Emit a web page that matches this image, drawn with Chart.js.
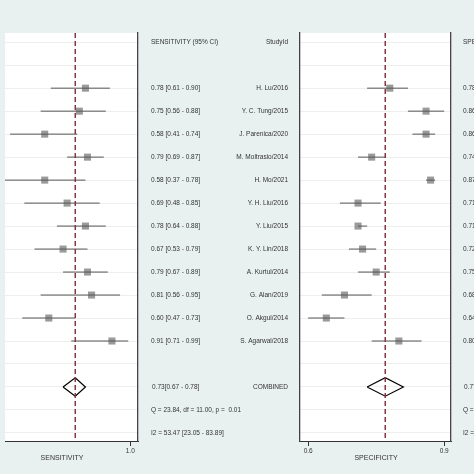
<!DOCTYPE html>
<html><head><meta charset="utf-8">
<script src="https://cdn.jsdelivr.net/npm/chart.js@4"></script>
<style>
html,body{margin:0;padding:0;background:#e9f0f0;}
.w{position:absolute;left:0;top:0;width:474px;height:474px;}
canvas{display:block;}
</style></head><body>
<div class="w"><canvas id="c1" width="474" height="474"></canvas></div>
<div class="w"><canvas id="c2" width="474" height="474"></canvas></div>
<script>
const studies=["H. Lu/2016","Y. C. Tung/2015","J. Parenica/2020","M. Moltrasio/2014","H. Mo/2021","Y. H. Liu/2016","Y. Liu/2015","K. Y. Lin/2018","A. Kurtul/2014","G. Alan/2019","O. Akgul/2014","S. Agarwal/2018"];
const sensEst=[0.78,0.75,0.58,0.79,0.58,0.69,0.78,0.67,0.79,0.81,0.60,0.91];
const sensLo=[0.61,0.56,0.41,0.69,0.37,0.48,0.64,0.53,0.67,0.56,0.47,0.71];
const sensHi=[0.90,0.88,0.74,0.87,0.78,0.85,0.88,0.79,0.89,0.95,0.73,0.99];
const sensComb=[0.73,0.67,0.78];
const specEst=[0.78,0.86,0.86,0.74,0.87,0.71,0.71,0.72,0.75,0.68,0.64,0.80];
const specLo=[0.73,0.82,0.83,0.71,0.86,0.67,0.71,0.69,0.71,0.63,0.60,0.74];
const specHi=[0.82,0.90,0.88,0.77,0.88,0.76,0.73,0.75,0.78,0.74,0.68,0.85];
const specComb=[0.77,0.73,0.81];
const sensTicks=[1.0], specTicks=[0.6,0.9];
const sensStats=["Q = 23.84, df = 11.00, p =  0.01","I2 = 53.47 [23.05 - 83.89]"];
const specStats=["Q = 154.32, df = 11.00, p =  0.00","I2 = 92.87 [90.05 - 95.69]"];
const COMB_ROW=14, Q_ROW=15, I_ROW=16, HEAD_ROW=-1;
const FONT='"Liberation Sans", Arial, sans-serif';
const f2=v=>v.toFixed(2);

function build(id,est,lo,hi,comb,ticks,xmin,xmax,padL,padR,opts){
  const pts=est.map((v,i)=>({x:v,y:i+1}));
  const ci=[];lo.forEach((v,i)=>{ci.push({x:v,y:i+1},{x:hi[i],y:i+1},{x:null,y:null});});
  const dia=[{x:comb[1],y:COMB_ROW},{x:comb[0],y:COMB_ROW-0.4},{x:comb[2],y:COMB_ROW},{x:comb[0],y:COMB_ROW+0.4},{x:comb[1],y:COMB_ROW}];
  const ymin=-1.4,ymax=16.35;
  const textPlugin={id:'txt',
    beforeDraw(ch){const a=ch.chartArea,c=ch.ctx;c.save();c.fillStyle='#fff';c.fillRect(a.left,a.top,a.right-a.left,a.bottom-a.top);c.restore();},
    afterDraw(ch){const c=ch.ctx,y=ch.scales.y;c.save();c.fillStyle='#333';c.textBaseline='middle';c.font='6.5px '+FONT;
      opts.draw(c,r=>y.getPixelForValue(r));c.restore();}};
  new Chart(document.getElementById(id),{type:'scatter',
    data:{datasets:[
      {data:[{x:comb[0],y:ymin},{x:comb[0],y:ymax}],showLine:true,borderColor:'#a3283f',borderWidth:1.5,borderDash:[5,3],pointRadius:0},
      {data:ci,showLine:true,borderColor:'#555',borderWidth:1,pointRadius:0,spanGaps:false},
      {data:pts,pointStyle:'rect',pointRadius:5,backgroundColor:'#9a9a9a',borderWidth:0},
      {data:pts,pointStyle:'rect',pointRadius:2,backgroundColor:'#000',borderWidth:0},
      {data:dia,showLine:true,borderColor:'#000',borderWidth:1.2,pointRadius:0,fill:false}
    ]},
    options:{responsive:false,animation:false,devicePixelRatio:1,
      layout:{padding:{left:padL,right:padR,top:33,bottom:0}},
      plugins:{legend:{display:false},tooltip:{enabled:false}},
      scales:{
        x:{type:'linear',min:xmin,max:xmax,
          afterBuildTicks:s=>{s.ticks=ticks.map(v=>({value:v}));},
          afterFit:s=>{s.height=33;},
          border:{display:true,color:'#333',width:1},
          grid:{drawOnChartArea:false,drawTicks:true,tickLength:5,color:'#333'},
          ticks:{font:{size:6.5,family:FONT},color:'#333',padding:1,maxRotation:0,minRotation:0,autoSkip:false,callback:v=>v.toFixed(1)}},
        y:{type:'linear',reverse:true,min:ymin,max:ymax,position:opts.yPos,
          afterBuildTicks:s=>{const t=[];for(let i=-1;i<=16;i++)t.push({value:i});s.ticks=t;},
          afterFit:s=>{s.width=0;},
          border:{display:true,color:'#444',width:1.3},
          grid:{color:'#eeeeee',drawTicks:false},ticks:{display:false}},
        ...(opts.y2?{y2:{type:'linear',min:0,max:1,position:'right',afterFit:s=>{s.width=0;},
          border:{display:true,color:'#444',width:1.3},grid:{display:false},ticks:{display:false}}}:{})
      }},
    plugins:[textPlugin]});
}

build('c1',sensEst,sensLo,sensHi,sensComb,sensTicks,0.385,1.038,0,336,{yPos:'right',
  draw:(c,Y)=>{
    c.textAlign='left';
    c.fillText('SENSITIVITY (95% CI)',151,Y(HEAD_ROW));
    sensEst.forEach((v,i)=>c.fillText(f2(v)+' ['+f2(sensLo[i])+' - '+f2(sensHi[i])+']',151,Y(i+1)));
    c.fillText(f2(sensComb[0])+'['+f2(sensComb[1])+' - '+f2(sensComb[2])+']',152,Y(COMB_ROW));
    c.fillText(sensStats[0],151,Y(Q_ROW));c.fillText(sensStats[1],151,Y(I_ROW));
    c.textAlign='center';c.font='7px '+FONT;c.fillText('SENSITIVITY',62,458);
  }});
build('c2',specEst,specLo,specHi,specComb,specTicks,0.582,0.915,300,23,{yPos:'left',y2:true,
  draw:(c,Y)=>{
    c.textAlign='right';
    c.fillText('StudyId',288,Y(HEAD_ROW));
    studies.forEach((s,i)=>c.fillText(s,288,Y(i+1)));
    c.fillText('COMBINED',288,Y(COMB_ROW));
    c.textAlign='left';
    c.fillText('SPECIFICITY (95% CI)',463,Y(HEAD_ROW));
    specEst.forEach((v,i)=>c.fillText(f2(v)+' ['+f2(specLo[i])+' - '+f2(specHi[i])+']',463,Y(i+1)));
    c.fillText(f2(specComb[0])+'['+f2(specComb[1])+' - '+f2(specComb[2])+']',464,Y(COMB_ROW));
    c.fillText(specStats[0],463,Y(Q_ROW));c.fillText(specStats[1],463,Y(I_ROW));
    c.textAlign='center';c.font='7px '+FONT;c.fillText('SPECIFICITY',376,458);
  }});
</script></body></html>
